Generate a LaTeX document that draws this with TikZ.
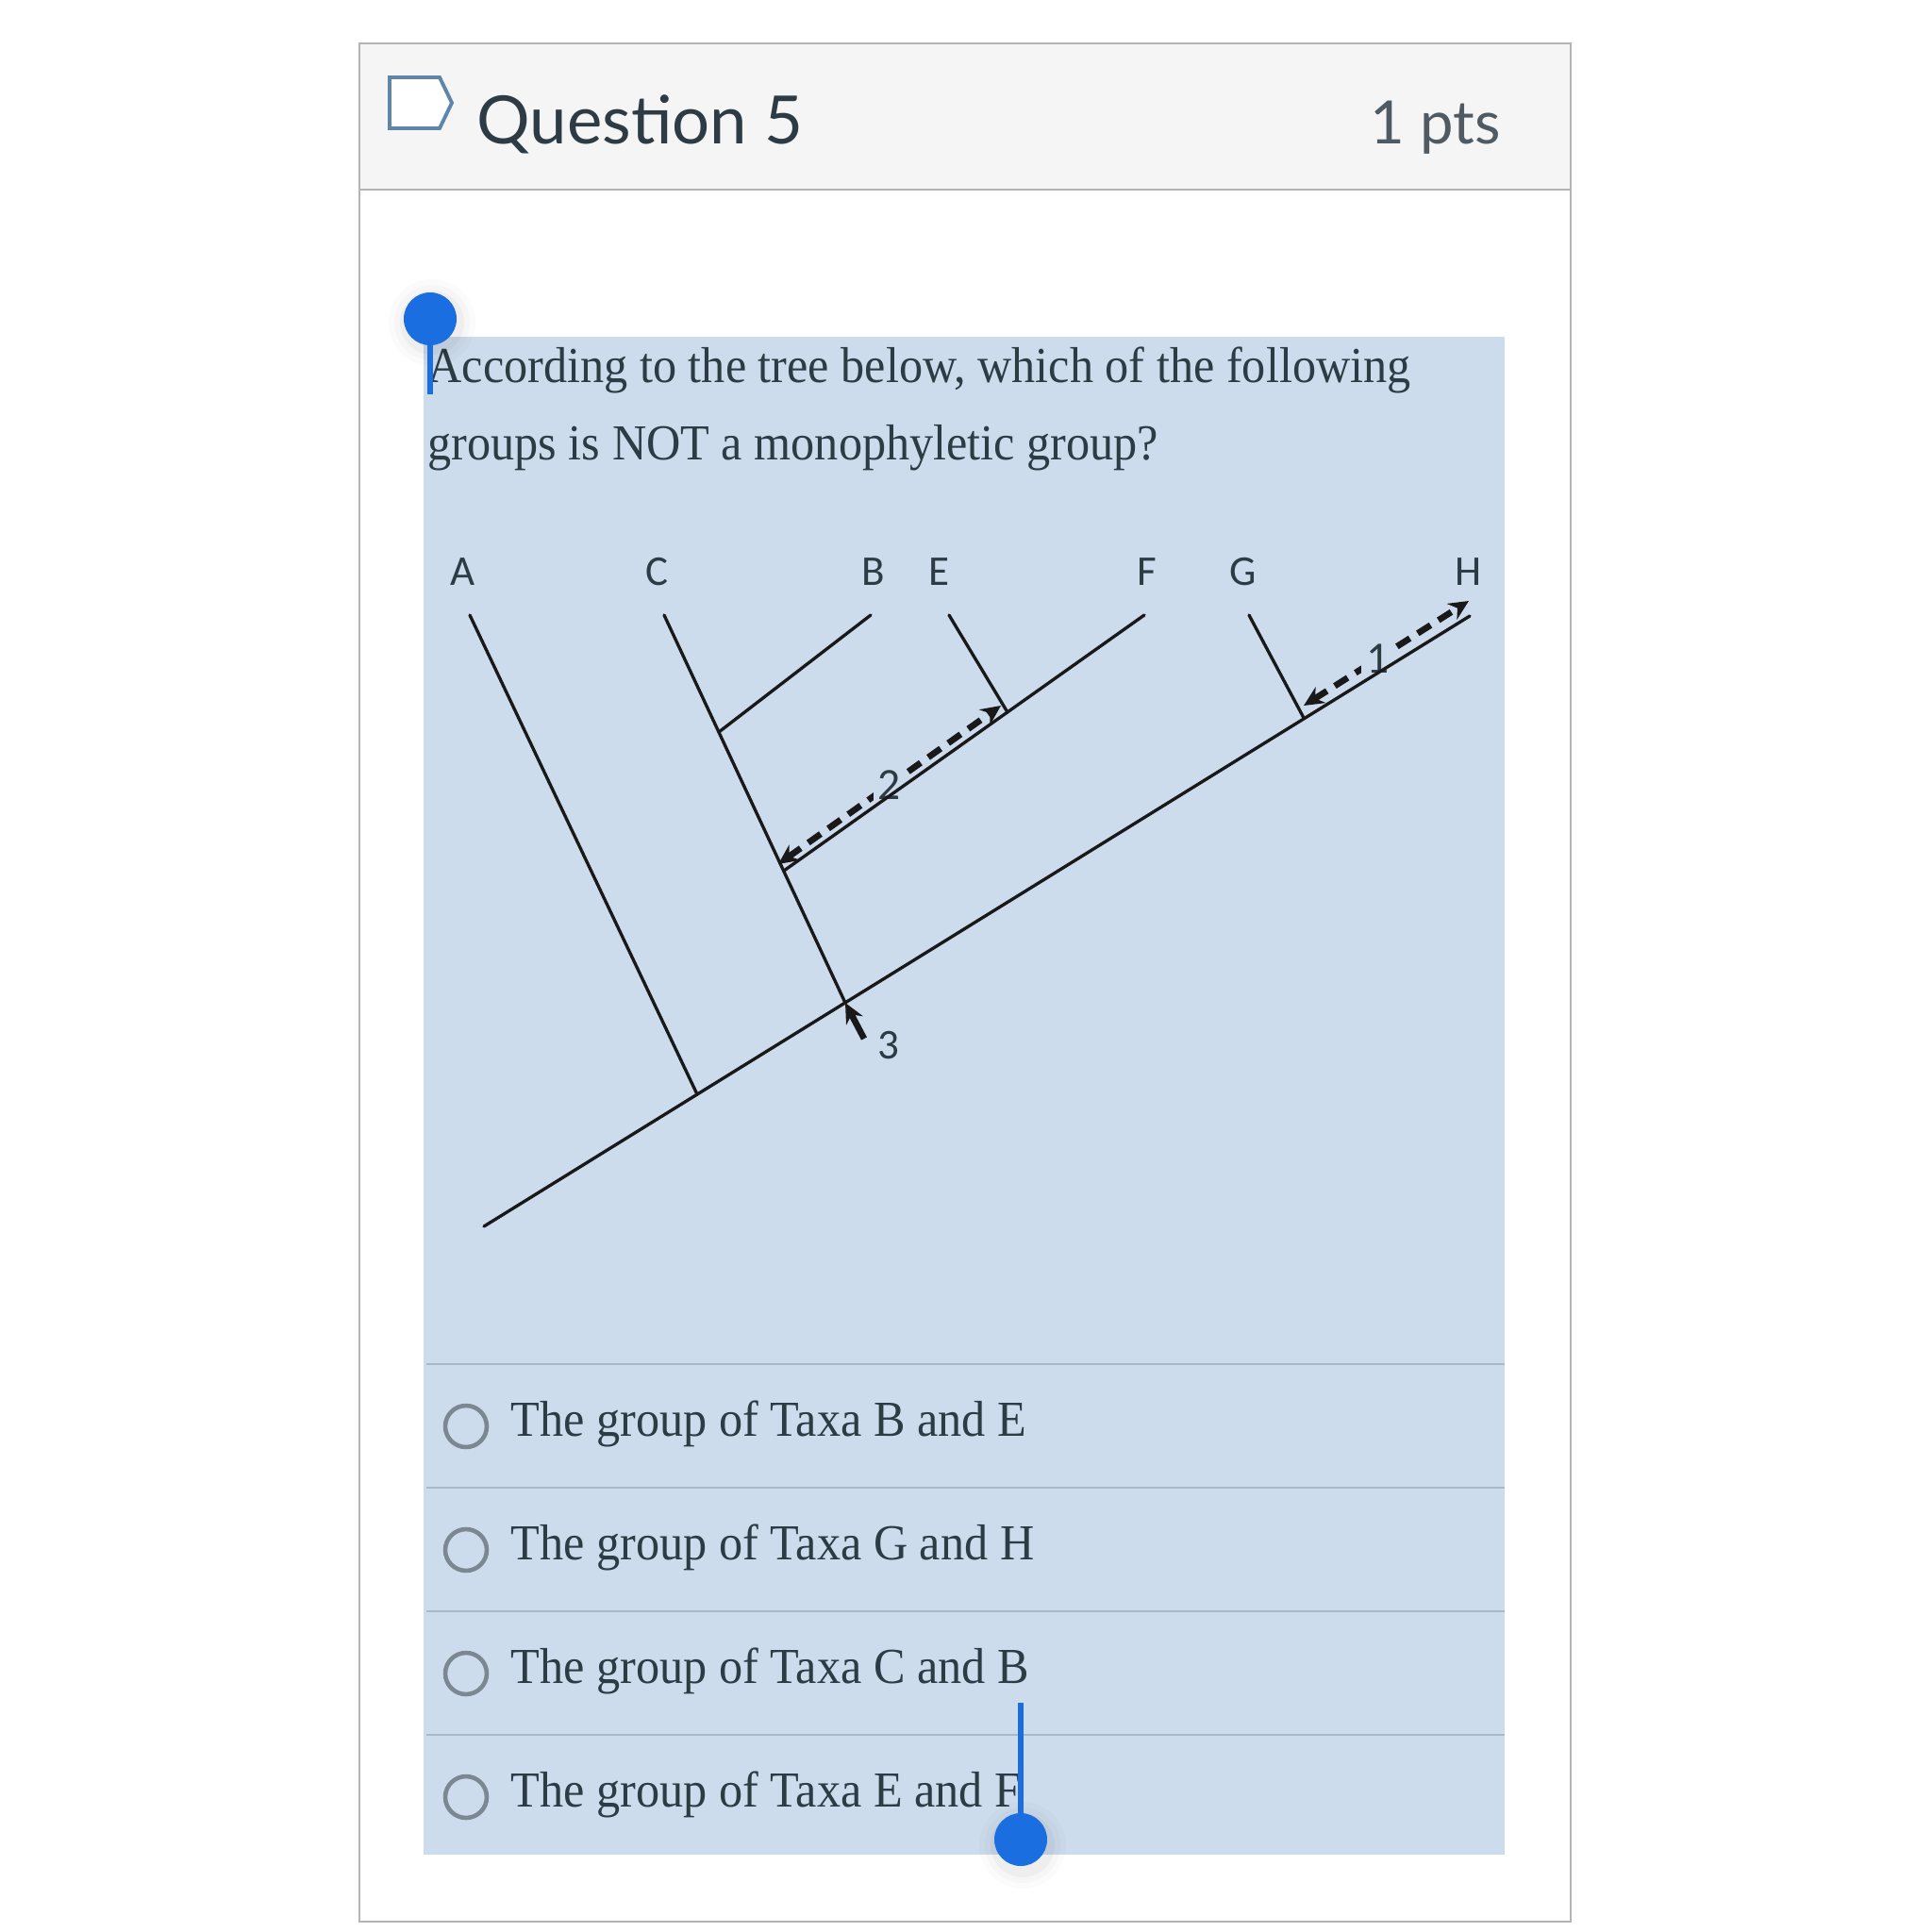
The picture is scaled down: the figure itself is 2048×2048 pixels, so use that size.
\documentclass[tikz,border=0pt]{standalone}
\usepackage{fontspec}
\setmainfont{Liberation Serif}
\newfontfamily\condserif[FakeStretch=0.94]{Liberation Serif}
\newfontfamily\latofont{Lato}
\newfontfamily\calfont{Carlito}
\usetikzlibrary{arrows.meta}
\definecolor{cardborder}{HTML}{B4B4B4}
\definecolor{headfill}{HTML}{F5F5F5}
\definecolor{hilite}{HTML}{CDDCEC}
\definecolor{ink}{HTML}{2D3B45}
\definecolor{ptsgray}{HTML}{505A63}
\definecolor{sepline}{HTML}{A8B9CA}
\definecolor{radiogray}{HTML}{7B8791}
\definecolor{handle}{HTML}{1A6EE0}
\definecolor{iconline}{HTML}{5F86A8}
\tikzset{
  tree/.style={line width=0.95pt, black!90, line cap=round},
  dimarrow/.style={line width=1.9pt, black!90, dash pattern=on 4.6pt off 2.8pt, {Stealth[length=6pt,width=5.6pt]}-{Stealth[length=6pt,width=5.6pt]}},
  taxon/.style={font=\calfont\fontsize{12.8}{14}\selectfont, text=ink, anchor=base},
  dimlabel/.style={font=\calfont\fontsize{13.5}{15}\selectfont, text=ink, fill=hilite, inner sep=1.5pt},
  qtext/.style={font=\condserif\fontsize{15.2}{18}\selectfont, text=ink, anchor=base west, inner sep=0pt},
  radio/.style={draw=radiogray, line width=1.3pt, circle, minimum size=12.5pt, inner sep=0pt},
  sep/.style={draw=sepline, line width=0.8pt},
}
\begin{document}
\begin{tikzpicture}[x=0.01cm, y=-0.01cm]
\useasboundingbox (0,0) rectangle (2048,2048);
\fill[white] (0,0) rectangle (2048,2048);
% card
\fill[headfill] (381,46) rectangle (1665,201);
\draw[cardborder, line width=0.8pt] (381,46) rectangle (1665,2037);
\draw[cardborder, line width=0.8pt] (381,201) -- (1665,201);
% header
\draw[iconline, line width=1.1pt, fill=white] (413,82) -- (466,82) -- (479,109) -- (466,136) -- (413,136) -- cycle;
\node[anchor=base west, inner sep=0pt, text=ink, font=\latofont\fontsize{20.1}{24}\selectfont] (qtitle) at (505,152) {Question 5};
\node[anchor=base east, inner sep=0pt, text=ptsgray, font=\latofont\fontsize{18}{22}\selectfont] (pts) at (1591,152) {1 pts};
% highlight
\fill[hilite] (449,357) rectangle (1595,1966);
% question text
\node[qtext] (q1) at (453,405) {According to the tree below, which of the following};
\node[qtext] (q2) at (453,487) {groups is NOT a monophyletic group?};
% tree coordinates
\coordinate (root) at (513,1300);
\coordinate (Htip) at (1558,653);
\coordinate (Atip) at (498,652);
\coordinate (nA) at (739,1160);
\coordinate (Ctip) at (704,652);
\coordinate (nC) at (896,1063);
\coordinate (Btip) at (923,652);
\coordinate (nB) at (762,776);
\coordinate (nEF) at (831,923);
\coordinate (Ftip) at (1213,652);
\coordinate (Etip) at (1006,652);
\coordinate (nE) at (1068,755);
\coordinate (Gtip) at (1324,652);
\coordinate (nG) at (1382,761);
% taxon labels
\node[taxon] (lA) at (491,620) {A};
\node[taxon] (lC) at (696,620) {C};
\node[taxon] (lB) at (926,620) {B};
\node[taxon] (lE) at (995,620) {E};
\node[taxon] (lF) at (1216,620) {F};
\node[taxon] (lG) at (1318,620) {G};
\node[taxon] (lH) at (1557,620) {H};
% dimension arrows (drawn first so branches stay on top)
\coordinate (d2a) at (825,916);
\coordinate (d2b) at (1061,748);
\draw[dimarrow] (d2a) -- node[dimlabel, pos=0.5] (l2) {2} (d2b);
\coordinate (d1a) at (1382,748);
\coordinate (d1b) at (1557,637);
\draw[dimarrow] (d1a) -- node[dimlabel, pos=0.45] (l1) {1} (d1b);
% branches
\draw[tree] (root) -- (Htip);
\draw[tree] (Atip) -- (nA);
\draw[tree] (Ctip) -- (nC);
\draw[tree] (nB) -- (Btip);
\draw[tree] (nEF) -- (Ftip);
\draw[tree] (Etip) -- (nE);
\draw[tree] (Gtip) -- (nG);
% arrow 3
\coordinate (d3a) at (916,1101);
\draw[line width=1.9pt, black!90, -{Stealth[length=6pt,width=5.6pt]}] (d3a) -- (nC);
\node[taxon, anchor=center] (l3) at (942,1108) {3};
% answer separators
\draw[sep] (452,1446) -- (1595,1446);
\draw[sep] (452,1577) -- (1595,1577);
\draw[sep] (452,1708) -- (1595,1708);
\draw[sep] (452,1839) -- (1595,1839);
% options
\node[radio] (r1) at (494,1512) {};
\node[radio] (r2) at (494,1643) {};
\node[radio] (r3) at (494,1774) {};
\node[radio] (r4) at (494,1905) {};
\node[qtext] (o1) at (541,1522) {The group of Taxa B and E};
\node[qtext] (o2) at (541,1653) {The group of Taxa G and H};
\node[qtext] (o3) at (541,1784) {The group of Taxa C and B};
\node[qtext] (o4) at (541,1915) {The group of Taxa E and F};
% selection handles (soft shadows)
\foreach \r/\o in {46/0.015, 40/0.02, 34/0.03}{
  \fill[black, opacity=\o] (1084,1956) circle (\r);
  \fill[black, opacity=\o] (458,342) circle (\r);
}
\draw[handle, line width=1.6pt] (456,360) -- (456,418);
\fill[handle] (456,338) circle (28);
\draw[handle, line width=1.6pt] (1082,1805) -- (1082,1940);
\fill[handle] (1082,1950) circle (28);
\end{tikzpicture}
\end{document}
